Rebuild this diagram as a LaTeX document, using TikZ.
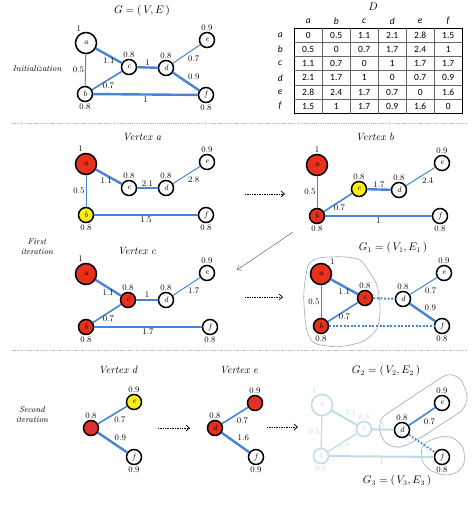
\documentclass[tikz,border=0pt]{standalone}
\usepackage{fontspec}
\newfontfamily\tabfont{Carlito}
\usetikzlibrary{positioning, arrows.meta, matrix}

\definecolor{edgeblue}{RGB}{72,132,212}
\definecolor{nodered}{RGB}{232,48,28}
\definecolor{nodeyel}{RGB}{250,238,20}
\definecolor{fadeblue}{RGB}{188,220,232}
\definecolor{blobline}{RGB}{150,172,192}
\definecolor{letterpurple}{RGB}{150,40,200}

\tikzset{
  vtx/.style={circle, draw, line width=1.5pt, minimum size=15pt, inner sep=0pt, fill=white, font=\fontsize{8}{9}\selectfont\itshape},
  big/.style={minimum size=21pt},
  hot/.style={fill=nodered},
  cand/.style={fill=nodeyel},
  faded/.style={draw=fadeblue, text=fadeblue},
  wt/.style={font=\fontsize{8.5}{9}\selectfont\upshape, inner sep=1pt},
  fwt/.style={wt, text=fadeblue},
  w1/.style={draw=edgeblue, line width=1pt},
  w2/.style={draw=edgeblue, line width=1.6pt},
  w3/.style={draw=edgeblue, line width=2.4pt},
  cutedge/.style={draw=edgeblue, line width=2pt, dash pattern=on 2pt off 1.6pt},
  fw/.style={draw=fadeblue, line width=1.2pt},
  fw2/.style={draw=fadeblue, line width=2pt},
  ttl/.style={font=\fontsize{10.5}{12}\selectfont\itshape},
  side/.style={font=\fontsize{8.5}{10}\selectfont\itshape, align=center},
  flow/.style={densely dotted, line width=0.7pt, -{Straight Barb[length=3.5pt, width=6pt]}},
  blob/.style={draw=blobline, fill=white, line width=0.6pt},
  sepline/.style={draw=black!25, line width=1pt, dash pattern=on 1.5pt off 0.8pt},
}

\begin{document}
\begin{tikzpicture}[x=1pt, y=-1pt]
    \useasboundingbox (0,0) rectangle (474,505);

    % 初期化
    \node[side] (tInit) at (37,69) {Initialization};
    \node[ttl] (tG) at (142,11) {$G = (\,V, E\,)$};
    \node[vtx, big, label={[wt]110:1}] (Ia) at (86,43) {a};
    \node[vtx, label={[wt]below:0.8}] (Ib) at (85,94) {b};
    \node[vtx, label={[wt]above:0.8}] (Ic) at (129,67) {c};
    \node[vtx, label={[wt]above:0.8}] (Id) at (166,68) {d};
    \node[vtx, label={[wt]above:0.9}] (Ie) at (207,40) {e};
    \node[vtx, label={[wt]below:0.8}] (If) at (206,95) {f};
    \draw[w3] (Ia) -- node[wt, below] {1.1} (Ic);
    \draw[w1] (Ia) -- node[wt, left] {0.5} (Ib);
    \draw[w2] (Ib) -- node[wt, pos=.55, below=1pt] {0.7} (Ic);
    \draw[w3] (Ic) -- node[wt, above] {1} (Id);
    \draw[w1] (Id) -- node[wt, anchor=north west] {0.7} (Ie);
    \draw[w3] (Id) -- node[wt, anchor=south west] {0.9} (If);
    \draw[w3] (Ib) -- node[wt, below] {1} (If);

    % 距離行列 D
    \node[font=\fontsize{10.5}{12}\selectfont] (Dt) at (373,7) {$D$};
    \matrix (D) [matrix of nodes, anchor=north west, inner sep=0pt, column sep=0pt, row sep=0pt,
        nodes={minimum width=28pt, minimum height=14.2pt, inner sep=0pt, anchor=center,
               font=\tabfont\fontsize{9.5}{10}\selectfont}] at (266,13.8) {
                & \textit{a} & \textit{b} & \textit{c} & \textit{d} & \textit{e} & \textit{f} \\
      \textit{a} & 0   & 0.5 & 1.1 & 2.1 & 2.8 & 1.5 \\
      \textit{b} & 0.5 & 0   & 0.7 & 1.7 & 2.4 & 1   \\
      \textit{c} & 1.1 & 0.7 & 0   & 1   & 1.7 & 1.7 \\
      \textit{d} & 2.1 & 1.7 & 1   & 0   & 0.7 & 0.9 \\
      \textit{e} & 2.8 & 2.4 & 1.7 & 0.7 & 0   & 1.6 \\
      \textit{f} & 1.5 & 1   & 1.7 & 0.9 & 1.6 & 0   \\
    };
    \draw[line width=0.8pt] (D-2-2.north west) rectangle (D-7-7.south east);
    \foreach \k in {3,...,7} {
      \draw[black!60, line width=0.4pt] (D-2-\k.north west) -- (D-7-\k.south west);
      \draw[black!60, line width=0.4pt] (D-\k-2.north west) -- (D-\k-7.north east);
    }

    % 区切り線
    \draw[sepline] (12,124) -- (467,124);
    \draw[sepline] (12,350) -- (467,350);

    % 1回目: 頂点 a
    \node[ttl] (tVa) at (142,137) {Vertex a};
    \node[side] (tFirst) at (37,247) {First\\iteration};
    \node[vtx, big, hot, label={[wt]100:1}] (Aa) at (86,164) {a};
    \node[vtx, cand, label={[wt]below:0.8}] (Ab) at (86,215) {b};
    \node[vtx, label={[wt]above:0.8}] (Ac) at (129,188) {c};
    \node[vtx, label={[wt]above:0.8}] (Ad) at (166,188) {d};
    \node[vtx, label={[wt]above:0.9}] (Ae) at (207,162) {e};
    \node[vtx, label={[wt]below:0.8}] (Af) at (206,215) {f};
    \draw[w3] (Aa) -- node[wt, pos=.4, below] {1.1} (Ac);
    \draw[w1] (Aa) -- node[wt, left] {0.5} (Ab);
    \draw[w2] (Ac) -- node[wt, above] {2.1} (Ad);
    \draw[w1] (Ad) -- node[wt, anchor=north west] {2.8} (Ae);
    \draw[w3] (Ab) -- node[wt, below] {1.5} (Af);

    % 1回目: 頂点 b
    \node[ttl] (tVb) at (375,137) {Vertex b};
    \node[vtx, big, hot, label={[wt]above:1}] (Ba) at (317,165) {a};
    \node[vtx, hot, label={[wt]below:0.8}] (Bb) at (317,216) {b};
    \node[vtx, cand, label={[wt]above:0.8}] (Bc) at (359,189) {c};
    \node[vtx, label={[wt]above:0.8}] (Bd) at (399,190) {d};
    \node[vtx, label={[wt]above:0.9}] (Be) at (442,163) {e};
    \node[vtx, label={[wt]below:0.8}] (Bf) at (440,216) {f};
    \draw[w1] (Ba) -- node[wt, left] {0.5} (Bb);
    \draw[w2] (Bb) -- node[wt, pos=.55, below=1pt] {0.7} (Bc);
    \draw[w3] (Bc) -- node[wt, above] {1.7} (Bd);
    \draw[w1] (Bd) -- node[wt, anchor=north west] {2.4} (Be);
    \draw[w3] (Bb) -- node[wt, below] {1} (Bf);
    \node[ttl] (tG1) at (393,248) {$G_1 = (\,V_1, E_1\,)$};

    % 1回目: 頂点 c
    \node[ttl] (tVc) at (137,251) {Vertex c};
    \node[vtx, big, hot, label={[wt]100:1}] (Ca) at (86,274) {a};
    \node[vtx, hot, label={[wt]below:0.8}] (Cb) at (86,327) {b};
    \node[vtx, hot, label={[wt]above:0.8}] (Cc) at (128,300) {c};
    \node[vtx, label={[wt]above:0.8}] (Cd) at (166,300) {d};
    \node[vtx, label={[wt]above:0.9}] (Ce) at (207,273) {e};
    \node[vtx, label={[wt]below:0.8}] (Cf) at (210,327) {f};
    \draw[w3] (Ca) -- node[wt, below] {1.1} (Cc);
    \draw[w2] (Cb) -- node[wt, pos=.55, below=1pt] {0.7} (Cc);
    \draw[w3] (Cc) -- node[wt, above] {1} (Cd);
    \draw[w1] (Cd) -- node[wt, anchor=north west] {1.7} (Ce);
    \draw[w3] (Cb) -- node[wt, below] {1.7} (Cf);

    % 部分グラフ G1
    \draw[blob] plot[smooth cycle, tension=.7] coordinates {(312,261) (330,257) (357,259) (368,270) (378,290) (379,322) (368,338) (350,345) (328,346) (310,338) (304,305) (306,275)};
    \node[vtx, big, hot, label={[wt]45:1}] (Ga) at (321,274) {a};
    \node[vtx, hot, label={[wt]below:0.8}] (Gb) at (321,326) {b};
    \node[vtx, hot, label={[wt]above:0.8}] (Gc) at (365,298) {c};
    \node[vtx, label={[wt]above:0.8}] (Gd) at (403,299) {d};
    \node[vtx, label={[wt]above:0.9}] (Ge) at (444,273) {e};
    \node[vtx, label={[wt]below:0.8}] (Gf) at (442,326) {f};
    \draw[w1] (Ga) -- node[wt, left] {0.5} (Gb);
    \draw[w3] (Ga) -- node[wt, below] {1.1} (Gc);
    \draw[w2] (Gb) -- node[wt, pos=.55, below=1pt] {0.7} (Gc);
    \draw[cutedge] (Gc) -- (Gd);
    \draw[w1] (Gd) -- node[wt, anchor=north west] {0.7} (Ge);
    \draw[w3] (Gd) -- node[wt, anchor=south west] {0.9} (Gf);
    \draw[cutedge] (Gb) -- (Gf);

    % 矢印
    \coordinate (r1s) at (245,194); \coordinate (r1e) at (285,194);
    \coordinate (r2s) at (293,232); \coordinate (r2e) at (237,270);
    \coordinate (r3s) at (245,297); \coordinate (r3e) at (283,297);
    \coordinate (r4s) at (158,428); \coordinate (r4e) at (190,428);
    \coordinate (r5s) at (267,427); \coordinate (r5e) at (298,427);
    \draw[flow] (r1s) -- (r1e);
    \draw[flow, solid, black!60, line width=0.5pt] (r2s) -- (r2e);
    \draw[flow] (r3s) -- (r3e);
    \draw[flow] (r4s) -- (r4e);
    \draw[flow] (r5s) -- (r5e);

    % 2回目: 頂点 d
    \node[side] (tSecond) at (32,415) {Second\\iteration};
    \node[ttl] (tVd) at (118,370) {Vertex d};
    \node[vtx, hot, text=letterpurple, label={[wt]above:0.8}] (Dd) at (91,428) {d};
    \node[vtx, cand, label={[wt]above:0.9}] (De) at (134,402) {e};
    \node[vtx, label={[wt]below:0.9}] (Df) at (134,457) {f};
    \draw[w2] (Dd) -- node[wt, anchor=north west] {0.7} (De);
    \draw[w3] (Dd) -- node[wt, anchor=south west] {0.9} (Df);

    % 2回目: 頂点 e
    \node[ttl] (tVe) at (239,370) {Vertex e};
    \node[vtx, hot, label={[wt]above:0.8}] (Ed) at (215,428) {d};
    \node[vtx, hot, text=letterpurple, label={[wt]above:0.9}] (Ee) at (255,403) {e};
    \node[vtx, label={[wt]below:0.9}] (Ef) at (256,457) {f};
    \draw[w2] (Ed) -- node[wt, anchor=north west] {0.7} (Ee);
    \draw[w3] (Ed) -- node[wt, anchor=south west] {1.6} (Ef);

    % 部分グラフ G2, G3
    \node[ttl] (tG2) at (386,371) {$G_2 = (\,V_2, E_2\,)$};
    \node[ttl] (tG3) at (397,481) {$G_3 = (\,V_3, E_3\,)$};
    \draw[blob] plot[smooth cycle] coordinates {(382,418) (400,405) (427,387) (447,375) (460,379) (467,396) (462,410) (440,425) (420,438) (400,447) (386,443) (380,431)};
    \draw[blob] plot[smooth cycle] coordinates {(427,442) (440,437) (453,438) (463,448) (464,463) (457,472) (445,475) (430,470) (422,460) (422,448)};
    \node[vtx, big, faded, label={[fwt]110:1}] (Ha) at (322,405) {a};
    \node[vtx, faded, label={[fwt]below:0.8}] (Hb) at (321,456) {b};
    \node[vtx, faded, label={[fwt]above:0.8}] (Hc) at (364,429) {c};
    \node[vtx, label={[wt]above:0.8}] (Hd) at (402,430) {d};
    \node[vtx, label={[wt]above:0.9}] (He) at (442,403) {e};
    \node[vtx, label={[wt]below:0.8}] (Hf) at (442,457) {f};
    \draw[fw2] (Ha) -- node[fwt, pos=.45, anchor=south west] {1.1} (Hc);
    \draw[fw] (Ha) -- node[fwt, left] {0.5} (Hb);
    \draw[fw] (Hb) -- node[fwt, pos=.55, below=1pt] {0.7} (Hc);
    \draw[fw2] (Hc) -- node[fwt, above] {1} (Hd);
    \draw[fw2] (Hb) -- node[fwt, below] {1} (Hf);
    \draw[w2] (Hd) -- node[wt, anchor=north west] {0.7} (He);
    \draw[cutedge, line width=1.6pt] (Hd) -- (Hf);
\end{tikzpicture}
\end{document}
